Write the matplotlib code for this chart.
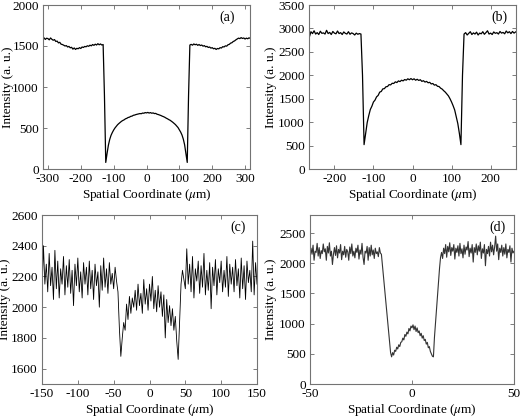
import numpy as np
import matplotlib
matplotlib.use("Agg")
import matplotlib.pyplot as plt

plt.rcParams['font.family'] = ['Liberation Serif', 'DejaVu Serif']
plt.rcParams['mathtext.fontset'] = 'stix'
plt.rcParams['axes.unicode_minus'] = False

# (a) intensity profile, x = -316 ... 316 step 4 um
a_y = [1585, 1600, 1580, 1595, 1590, 1575, 1598, 1582, 1570, 1578,
       1555, 1560, 1538, 1545, 1522, 1518, 1510, 1500, 1505, 1488,
       1495, 1478, 1484, 1462, 1476, 1458, 1472, 1466, 1480, 1470,
       1488, 1482, 1495, 1490, 1503, 1496, 1510, 1502, 1518, 1508,
       1522, 1512, 1528, 1515, 1525, 1512, 1518, 900, 80, 190,
       290, 360, 410, 445, 475, 500, 520, 540, 555, 568,
       582, 592, 600, 612, 618, 628, 632, 642, 645, 655,
       658, 664, 668, 672, 676, 674, 682, 680, 688, 684,
       690, 682, 688, 680, 684, 676, 678, 668, 664, 658,
       652, 644, 638, 630, 620, 612, 602, 594, 582, 570,
       556, 542, 524, 505, 478, 450, 415, 365, 295, 190,
       80, 900, 1512, 1520, 1510, 1525, 1515, 1522, 1508, 1518,
       1505, 1512, 1498, 1505, 1490, 1496, 1482, 1488, 1474, 1480,
       1466, 1472, 1458, 1470, 1465, 1480, 1475, 1492, 1488, 1502,
       1498, 1515, 1520, 1535, 1540, 1555, 1562, 1575, 1585, 1596,
       1590, 1602, 1592, 1598, 1585, 1596, 1588, 1600, 1592]
a_x = -316 + 4 * np.arange(len(a_y))

# (b) x = -264 ... 264 step 4 um
b_y = [2820, 2930, 2890, 2950, 2880, 2910, 2870, 2940, 2895, 2905,
       2880, 2960, 2890, 2915, 2870, 2935, 2900, 2885, 2945, 2890,
       2910, 2870, 2925, 2895, 2880, 2930, 2875, 2905, 2890, 2860,
       2900, 2875, 2890, 2880, 2000, 520, 760, 990, 1140, 1270,
       1340, 1430, 1470, 1540, 1570, 1640, 1655, 1710, 1715, 1755,
       1760, 1800, 1795, 1830, 1825, 1860, 1845, 1880, 1865, 1895,
       1880, 1910, 1895, 1925, 1905, 1930, 1905, 1925, 1895, 1915,
       1890, 1905, 1870, 1885, 1855, 1870, 1840, 1850, 1815, 1825,
       1790, 1800, 1765, 1760, 1725, 1705, 1670, 1640, 1600, 1560,
       1500, 1430, 1350, 1260, 1120, 970, 760, 520, 2000, 2880,
       2910, 2860, 2895, 2930, 2870, 2905, 2880, 2920, 2860, 2900,
       2885, 2930, 2875, 2910, 2950, 2880, 2900, 2870, 2925, 2895,
       2910, 2880, 2935, 2900, 2915, 2885, 2945, 2905, 2930, 2890,
       2935, 2900, 2925]
b_x = -264 + 4 * np.arange(len(b_y))

# (c) x = -150 ... 150 step 2 um
c_y = [2080, 2400, 2150, 2280, 2100, 2350, 2140, 2260, 2050, 2370,
       2120, 2300, 2060, 2250, 2150, 2330, 2080, 2270, 2130, 2310,
       2090, 2240, 2010, 2280, 2140, 2320, 2100, 2230, 2060, 2290,
       2150, 2260, 2080, 2300, 2120, 2240, 2050, 2280, 2140, 2230,
       2000, 2270, 2110, 2320, 2130, 2250, 2090, 2290, 2150, 2220,
       2120, 2260, 2170, 2100, 1860, 1680, 1800, 1900, 1850, 2020,
       1920, 2070, 1960, 2060, 2000, 2110, 1980, 2150, 2010, 2090,
       1960, 2180, 2020, 2120, 1980, 2150, 2040, 2200, 1990, 2110,
       1970, 2140, 2000, 2100, 1940, 2080, 1800, 2050, 1900, 2010,
       1880, 1990, 1850, 1940, 1780, 1660, 1900, 2150, 2240, 2180,
       2120, 2380, 2150, 2280, 2100, 2330, 2060, 2250, 2170, 2300,
       2090, 2270, 2130, 2350, 2080, 2240, 2110, 2290, 1990, 2260,
       2140, 2310, 2080, 2250, 2160, 2300, 2100, 2240, 2130, 2330,
       2070, 2280, 2150, 2260, 2100, 2310, 2140, 2250, 2060, 2320,
       2120, 2270, 2050, 2300, 2160, 2240, 2100, 2430, 2080, 2290,
       2150]
c_x = -150 + 2 * np.arange(len(c_y))

# (d) x = -50 ... 50 step 0.5 um
d_y = [2100, 2250, 2150, 2300, 2050, 2200, 2180, 2330, 2120, 2260,
       2080, 2210, 2160, 2320, 2190, 2240, 2050, 2280, 2170, 2340,
       2120, 2200, 1980, 2150, 2260, 2130, 2290, 2090, 2230, 2170,
       2310, 2060, 2200, 2140, 2280, 2100, 2230, 2190, 2050, 2270,
       2160, 2320, 2120, 2200, 2090, 2250, 2180, 2300, 2070, 2220,
       2150, 2330, 2100, 1980, 2200, 2170, 2280, 2050, 2260, 2120,
       2300, 2140, 2220, 2080, 2250, 2160, 2190, 2110, 2260, 2170,
       2150, 1970, 1790, 1610, 1430, 1250, 1070, 890, 710, 520,
       450, 520, 480, 560, 540, 610, 580, 650, 620, 690,
       700, 760, 730, 820, 790, 860, 830, 920, 880, 960,
       930, 980, 900, 960, 870, 930, 850, 880, 800, 840,
       760, 800, 720, 740, 660, 690, 600, 620, 540, 500,
       460, 450, 770, 1000, 1230, 1460, 1690, 1920, 2100, 2180,
       2080, 2250, 2160, 2310, 2100, 2280, 2190, 2340, 2130, 2260,
       2200, 2310, 2070, 2250, 2180, 2290, 2120, 2330, 2160, 2240,
       2090, 2300, 2150, 2270, 2220, 2360, 2110, 2250, 2170, 2310,
       2020, 2260, 2180, 2320, 2140, 2290, 2200, 2350, 2080, 2240,
       2170, 2310, 1960, 2230, 2160, 2280, 2120, 2350, 2190, 2300,
       2140, 2270, 2450, 2200, 2320, 2060, 2250, 2180, 2300, 2120,
       2260, 2150, 2320, 2090, 2230, 2180, 2290, 2020, 2250, 2170,
       2200]
d_x = -50 + 0.5 * np.arange(len(d_y))

W, H = 520, 419
fig = plt.figure(figsize=(W / 100, H / 100), dpi=100)


def make_ax(l, r, t, b):
    return fig.add_axes([l / W, 1 - b / H, (r - l) / W, (b - t) / H])


panels = [
    (make_ax(43, 250, 5, 169), a_x, a_y, (-315, 315), (0, 2000),
     np.arange(-300, 301, 100), np.arange(0, 2001, 500), '(a)', 0.89, -0.142, 'k', 0.9),
    (make_ax(309, 516, 5, 169), b_x, b_y, (-265, 265), (0, 3500),
     np.arange(-200, 201, 100), np.arange(0, 3501, 500), '(b)', 0.92, -0.155, 'k', 0.9),
    (make_ax(42, 257, 215, 384), c_x, c_y, (-150, 150), (1500, 2600),
     np.arange(-150, 151, 50), np.arange(1600, 2601, 200), '(c)', 0.91, -0.145, 'k', 0.6),
    (make_ax(310, 514, 215, 384), d_x, d_y, (-50, 50), (0, 2800),
     [-50, 0, 50], np.arange(0, 2501, 500), '(d)', 0.92, -0.16, '0.2', 0.8),
]

for ax, x, y, xl, yl, xt, yt, tag, tx, lx, col, lw in panels:
    ax.plot(x, y, color=col, lw=lw)
    ax.set_xlim(*xl)
    ax.set_ylim(*yl)
    ax.set_xticks(xt)
    ax.set_yticks(yt)
    ax.tick_params(direction='in', length=3, width=0.6, top=True, right=True,
                   labelsize=9.5, color='0.4', pad=3)
    for s in ax.spines.values():
        s.set_color('0.45')
        s.set_linewidth(0.8)
    ax.set_xlabel(r'Spatial Coordinate ($\mu$m)', fontsize=9.5, labelpad=1)
    ax.set_ylabel('Intensity (a. u.)', fontsize=9.5)
    ax.yaxis.set_label_coords(lx, 0.5)
    ax.text(tx, 0.925, tag, transform=ax.transAxes, fontsize=10,
            ha='center', va='center')

fig.savefig('out.png', dpi=100)
